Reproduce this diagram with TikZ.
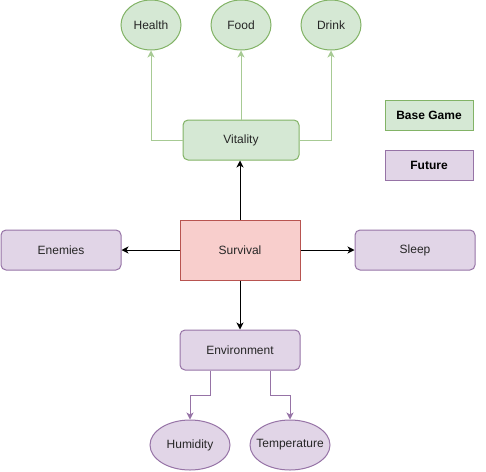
\documentclass[tikz,border=0pt]{standalone}
\usepackage{fontspec}
\setmainfont{Liberation Sans}
\usetikzlibrary{arrows.meta,shapes.geometric}
\definecolor{gfill}{HTML}{D5E8D4}
\definecolor{gline}{HTML}{82B366}
\definecolor{pfill}{HTML}{E1D5E7}
\definecolor{pline}{HTML}{9673A6}
\definecolor{rfill}{HTML}{F8CECC}
\definecolor{rline}{HTML}{B85450}
\begin{document}
\begin{tikzpicture}[x=1pt,y=-1pt,line width=1pt,
    font=\fontsize{12}{14}\selectfont,text=black!85,
    gbox/.style={draw=gline,fill=gfill,rounded corners=5pt,minimum width=116pt,minimum height=40pt},
    pbox/.style={draw=pline,fill=pfill,rounded corners=5pt,minimum width=120pt,minimum height=40pt},
    gell/.style={ellipse,draw=gline,fill=gfill,minimum width=60pt,minimum height=50pt,inner sep=0pt},
    pell/.style={ellipse,draw=pline,fill=pfill,minimum width=80pt,minimum height=50pt,inner sep=0pt,label=center:#1},
    legend/.style={minimum width=88pt,minimum height=30pt,font=\fontsize{12}{14}\selectfont\bfseries,text=black},
    garrow/.style={draw=gline!70!white,-{Stealth[length=7pt,width=7pt,inset=2pt]}},
    parrow/.style={draw=pline,-{Stealth[length=7pt,width=7pt,inset=2pt]}},
    barrow/.style={draw=black,-{Stealth[length=7pt,width=7pt,inset=2pt]}}]
  \useasboundingbox (0,0) rectangle (486,471);
  % 上の楕円
  \node[gell] (health) at (151,25) {Health};
  \node[gell] (food) at (241,25) {Food};
  \node[gell] (drink) at (331,25) {Drink};
  % Vitality
  \node[gbox] (vit) at (241,140) {Vitality};
  % 中央
  \node[draw=rline,fill=rfill,minimum width=120pt,minimum height=60pt] (surv) at (240,250) {Survival};
  \node[pbox] (enem) at (61,250) {Enemies};
  \node[pbox] (sleep) at (415,250) {Sleep};
  % Environment
  \node[pbox] (env) at (240,350) {Environment};
  \node[pell=Humidity] (hum) at (190,445) {};
  \node[pell=Temperature] (temp) at (290,445) {};
  % 凡例
  \node[legend,draw=gline,fill=gfill] (base) at (429,115) {Base Game};
  \node[legend,draw=pline,fill=pfill] (fut) at (429,165) {Future};
  % 矢印
  \draw[garrow] (vit.west) -| (health.south);
  \draw[garrow] (vit.north) -- (food.south);
  \draw[garrow] (vit.east) -| (drink.south);
  \draw[barrow] (surv.north) -- (surv.north |- vit.south);
  \draw[barrow] (surv.west) -- (enem.east);
  \draw[barrow] (surv.east) -- (sleep.west);
  \draw[barrow] (surv.south) -- (env.north);
  \draw[parrow] ([xshift=-30pt]env.south) -- ++(0,25) -| (hum.north);
  \draw[parrow] ([xshift=30pt]env.south) -- ++(0,25) -| (temp.north);
\end{tikzpicture}
\end{document}
